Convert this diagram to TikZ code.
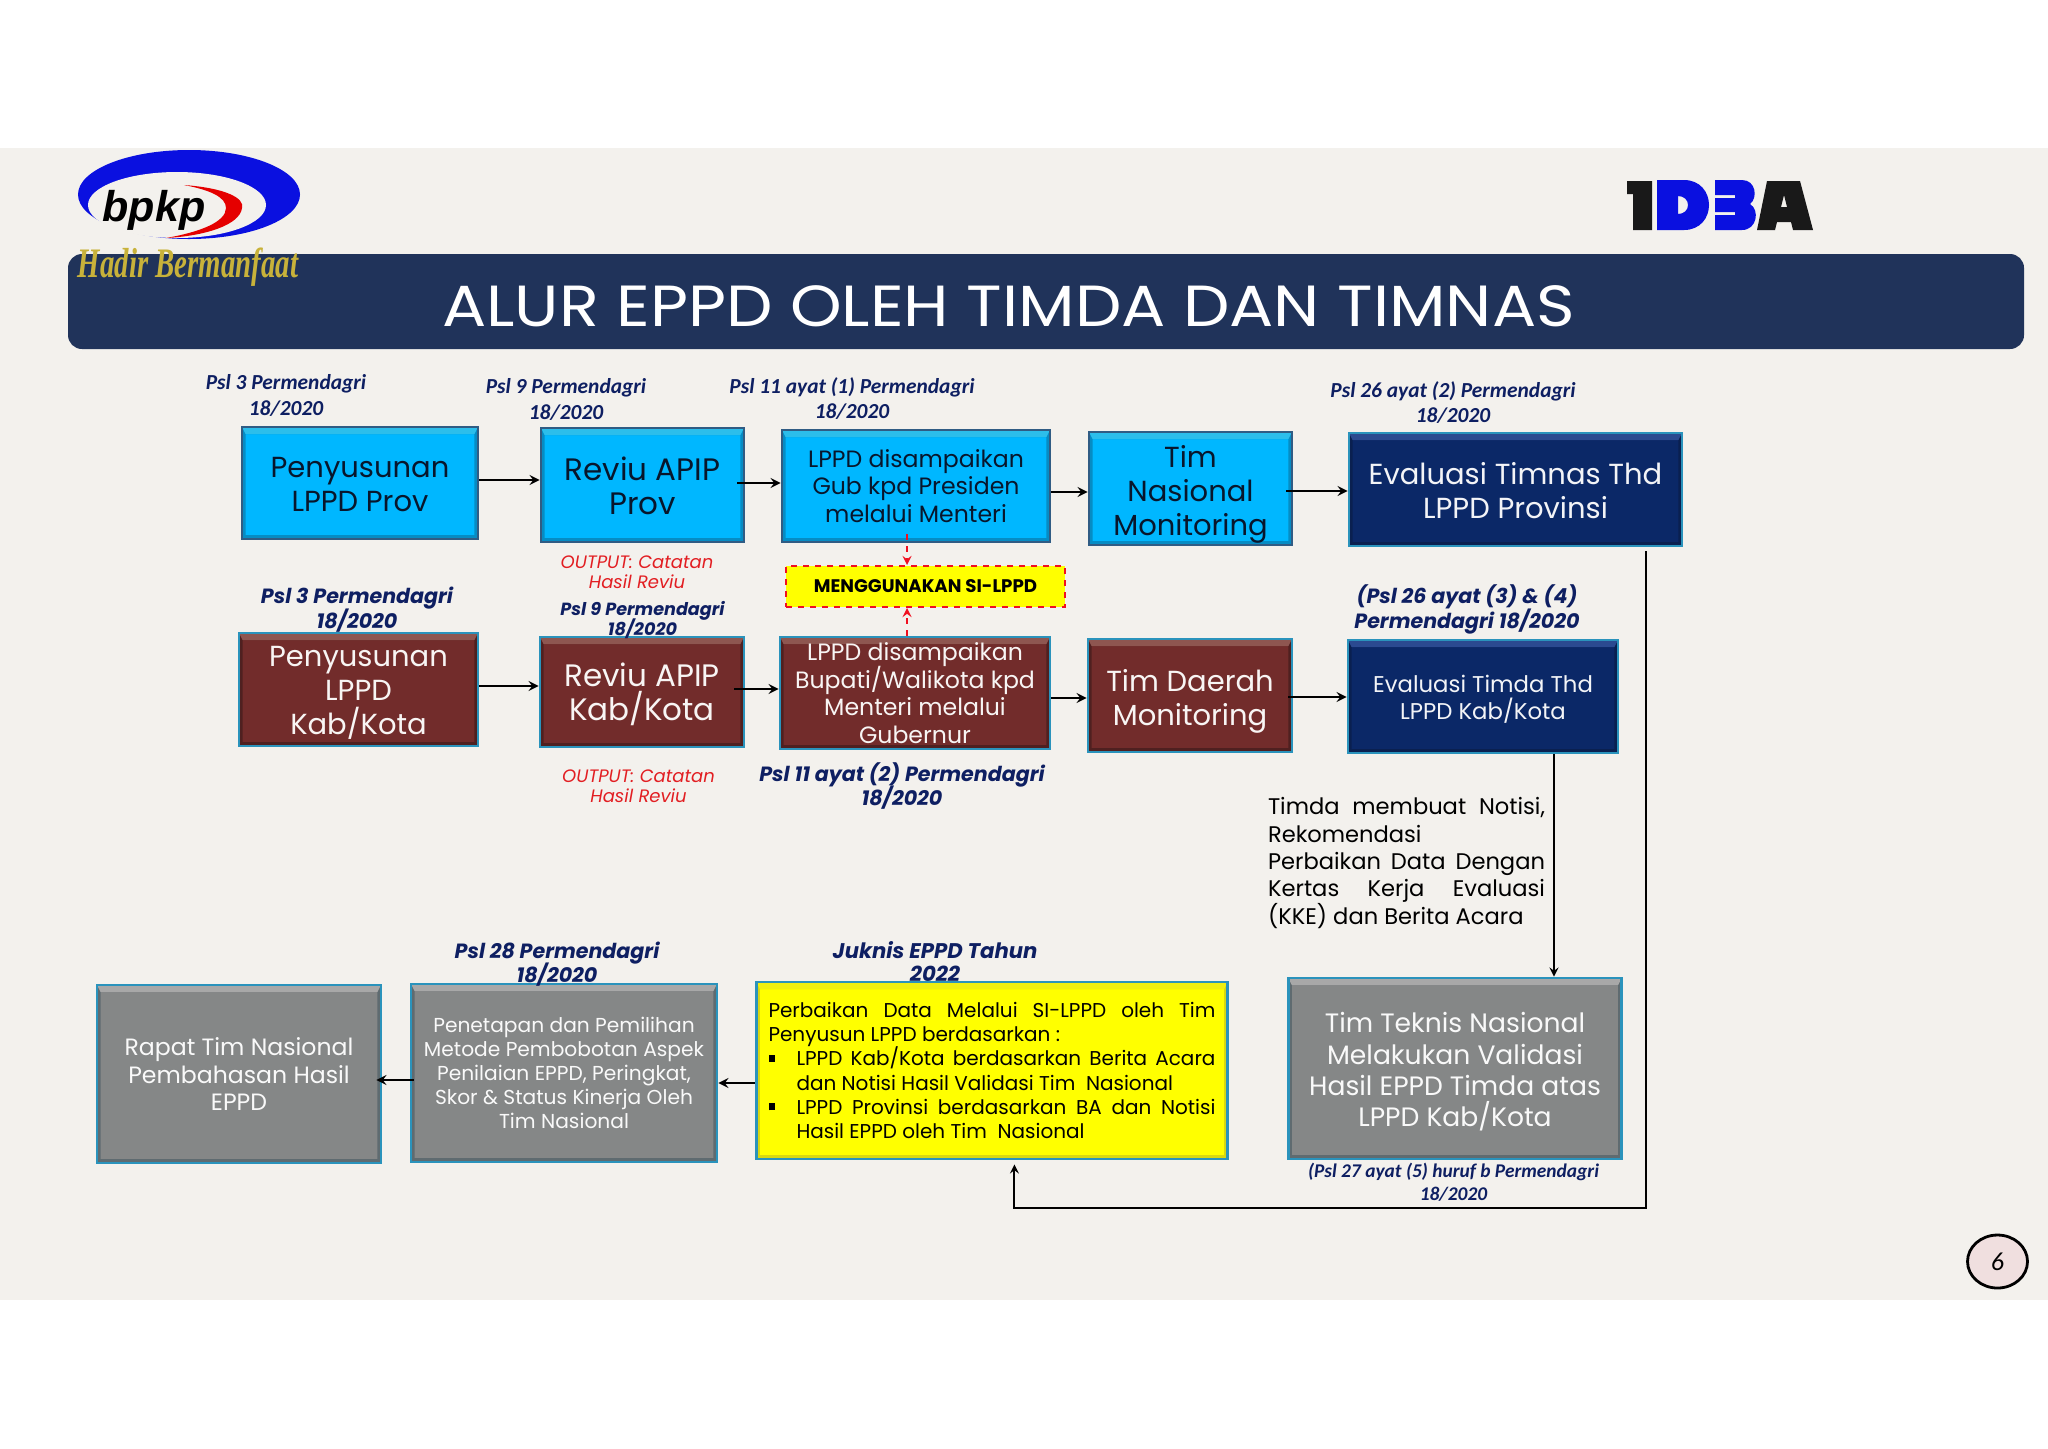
\documentclass[tikz,border=0pt]{standalone}
\usepackage{graphicx}
\usepackage{fontspec}
\setmainfont{Poppins}
\newfontfamily\carlitofont{Carlito}
\newfontfamily\logofont{Liberation Sans}
\newfontfamily\goldfont{Liberation Serif}
\usepackage{xcolor}
\usepackage{tikz}
\usetikzlibrary{shapes.geometric, arrows}
\AtBeginDocument{\lineskiplimit=-10pt\normallineskiplimit=-10pt}
\definecolor{slidebg}{HTML}{F3F1ED}
\definecolor{headbar}{HTML}{20335A}
\definecolor{pasalblue}{HTML}{0E1F62}
\definecolor{rimcyan}{HTML}{2A93BC}
\definecolor{skyfill}{HTML}{00B7FF}
\definecolor{skyrim}{HTML}{305C84}
\definecolor{skytop}{HTML}{2CBEEB}
\definecolor{skyside}{HTML}{068CC4}
\definecolor{skytext}{HTML}{08162C}
\definecolor{navyfill}{HTML}{0B2867}
\definecolor{navytop}{HTML}{2B4A90}
\definecolor{navyside}{HTML}{0A2050}
\definecolor{brownfill}{HTML}{722C2B}
\definecolor{browntop}{HTML}{8E5650}
\definecolor{brownside}{HTML}{4F2020}
\definecolor{grayfill}{HTML}{858787}
\definecolor{graytop}{HTML}{A8A8A8}
\definecolor{grayside}{HTML}{5F6B70}
\definecolor{outred}{HTML}{E21E22}
\definecolor{motto}{HTML}{C8B23A}
\definecolor{pagepink}{HTML}{F0DFDF}
\definecolor{lemon}{HTML}{FFFF00}
\definecolor{lemontop}{HTML}{EFEF10}
\definecolor{lemonside}{HTML}{D8D810}
\definecolor{dashred}{HTML}{F01020}
\definecolor{logoblue}{HTML}{0A10E0}
\tikzset{bevel/.style 2 args={path picture={
    \fill[#2, even odd rule] (path picture bounding box.south west) rectangle (path picture bounding box.north east)
        ([shift={(1.8pt,2pt)}]path picture bounding box.south west) rectangle ([shift={(-1.8pt,-3.5pt)}]path picture bounding box.north east);
    \fill[#1] (path picture bounding box.north west) -- (path picture bounding box.north east)
        -- ([shift={(-1.8pt,-3.5pt)}]path picture bounding box.north east) -- ([shift={(1.8pt,-3.5pt)}]path picture bounding box.north west) -- cycle;
}}}
\newcommand{\lifttop}[1]{\rule{0pt}{#1}}
\newcommand{\fullline}[1]{\noindent\hbox to \hsize{\spaceskip=0pt\xspaceskip=0pt #1}\par}
\newcommand{\sqbullet}{\hbox to 14pt{\rule[2pt]{3pt}{3.5pt}\hfil}}
\tikzstyle{flowblock} = [rectangle, line width=1.4pt, align=center, inner sep=0pt, text centered]
\tikzstyle{blueblock} = [flowblock, fill=skyfill, draw=skyrim, text=skytext, bevel={skytop}{skyside}]
\tikzstyle{navyblock} = [flowblock, fill=navyfill, draw=rimcyan, text=white!95!navyfill, bevel={navytop}{navyside}]
\tikzstyle{brownblock} = [flowblock, fill=brownfill, draw=rimcyan, text=white!95!brownfill, bevel={browntop}{brownside}]
\tikzstyle{grayblock} = [flowblock, fill=grayfill, draw=rimcyan, text=white!95!grayfill, bevel={graytop}{grayside}]
\tikzstyle{yellowblock} = [flowblock, fill=lemon, draw=rimcyan, text=black, bevel={lemontop}{lemonside}]
\tikzstyle{bigtext} = [font=\fontsize{14.5}{17}\selectfont]
\tikzstyle{reviutext} = [font=\fontsize{15.5}{17}\selectfont]
\tikzstyle{midtext} = [font=\fontsize{11.8}{13.8}\selectfont]
\tikzstyle{smalltext} = [font=\fontsize{10.1}{12}\selectfont]
\tikzstyle{pasal} = [node distance=40pt, align=center, text=pasalblue, inner sep=0pt, font=\carlitofont\bfseries\itshape\fontsize{10.7}{12.9}\selectfont]
\tikzstyle{pasalbold} = [pasal, font=\bfseries\itshape\fontsize{10.3}{12.2}\selectfont]
\tikzstyle{output} = [node distance=40pt, align=center, inner sep=0pt, text=outred, font=\itshape\fontsize{9}{10.2}\selectfont]
\tikzstyle{arrow} = [line width=1.2pt,->,>=stealth]
\tikzstyle{redarrow} = [line width=1pt,->,>=stealth, dashred, dashed]
\begin{document}
\begin{tikzpicture}[x=0.5pt, y=-0.5pt, node distance=100pt]
    \useasboundingbox (0,0) rectangle (2048,1448);
    \fill[slidebg] (0,148) rectangle (2048,1300);

    % logos
    \fill[logoblue] (189,194.5) ellipse [x radius=55.5pt, y radius=22.25pt];
    \fill[slidebg] (177,205) ellipse [x radius=44.5pt, y radius=16.5pt];
    \fill[red!90!black] (184,185) .. controls (225,188) and (245,198) .. (242,208) .. controls (240,225) and (205,236) .. (166,238) .. controls (200,232) and (226,222) .. (226,208) .. controls (226,197) and (210,190) .. (184,185) -- cycle;
    \node (bpkp) at (154,210) [inner sep=0pt, font=\logofont\bfseries\itshape\fontsize{21.5}{24}\selectfont] {bpkp};
    \fill[black!90] (1627,181) -- (1652,181) -- (1652,230) -- (1633,230) -- (1633,194) -- (1627,194) -- cycle;
    \fill[logoblue, even odd rule] (1657,180) -- (1684,180) .. controls (1700,180) and (1709,192) .. (1709,205) .. controls (1709,218) and (1700,230) .. (1684,230) -- (1657,230) -- cycle
        (1678,196) -- (1678,214) .. controls (1684,214) and (1688,210) .. (1688,205) .. controls (1688,200) and (1684,196) .. (1678,196) -- cycle;
    \fill[logoblue] (1715,180) -- (1742,180) .. controls (1756,180) and (1758,198) .. (1750,204) .. controls (1760,210) and (1757,230) .. (1742,230) -- (1715,230) -- (1715,215) -- (1735,215) -- (1735,212) -- (1715,212) -- (1715,198) -- (1735,198) -- (1735,195) -- (1715,195) -- cycle;
    \fill[black!90, even odd rule] (1767,181) -- (1800,181) -- (1813,230) -- (1793,230) -- (1791,222) -- (1777,222) -- (1775,230) -- (1757,230) -- cycle
        (1784,195) -- (1781,207) -- (1787,207) -- cycle;

    % header
    \node (headband) at (1046,301.5) [rectangle, rounded corners=7pt, fill=headbar, minimum width=978pt, minimum height=47.5pt, inner sep=0pt] {};
    \node (mottotext) at (188,267) [inner sep=0pt, text=motto, font=\goldfont\bfseries\itshape\fontsize{15}{18}\selectfont] {\scalebox{0.96}[1.4]{Hadir Bermanfaat}};
    \node (title) at (1008.5,306) [inner sep=0pt, text=white, font=\fontsize{29}{32}\selectfont] {\scalebox{1.132}[1]{ALUR EPPD OLEH TIMDA DAN TIMNAS}};

    % provinsi
    \node (prov) at (360,483) [blueblock, bigtext, minimum width=118pt, minimum height=56pt] {\lifttop{11.8pt}Penyusunan\\LPPD Prov};
    \node (reviuprov) [blueblock, reviutext, minimum width=101.5pt, minimum height=57pt, right of=prov, xshift=41.25pt, yshift=-1pt] {\lifttop{12.4pt}Reviu APIP\\Prov};
    \node (lppdprov) [blueblock, midtext, minimum width=134pt, minimum height=56pt, right of=reviuprov, xshift=36.75pt, yshift=-0.5pt] {LPPD disampaikan\\Gub kpd Presiden\\melalui Menteri};
    \node (timnas) [blueblock, bigtext, minimum width=101.5pt, minimum height=56.5pt, right of=lppdprov, xshift=37.25pt, yshift=-1.25pt] {\lifttop{16.4pt}Tim\\Nasional\\Monitoring};
    \node (evalprov) [navyblock, bigtext, minimum width=166.5pt, minimum height=56.5pt, right of=timnas, xshift=62.5pt, yshift=-0.5pt] {\lifttop{12.4pt}Evaluasi Timnas Thd\\LPPD Provinsi};

    % kab/kota
    \node (kab) [brownblock, bigtext, minimum width=119.5pt, minimum height=56.5pt, below of=prov, xshift=-0.75pt, yshift=-3.25pt] {\lifttop{13.1pt}Penyusunan\\LPPD\\Kab/Kota};
    \node (reviukab) [brownblock, reviutext, minimum width=102pt, minimum height=55pt, right of=kab, xshift=41.75pt, yshift=-1.25pt] {\lifttop{14.4pt}Reviu APIP\\Kab/Kota};
    \node (lppdkab) [brownblock, midtext, minimum width=135pt, minimum height=56pt, right of=reviukab, xshift=36.5pt, yshift=-0.5pt] {LPPD disampaikan\\Bupati/Walikota kpd\\Menteri melalui\\Gubernur};
    \node (timda) [brownblock, bigtext, minimum width=102pt, minimum height=56.5pt, right of=lppdkab, xshift=37.5pt, yshift=-1.25pt] {\lifttop{16.4pt}Tim Daerah\\Monitoring};
    \node (evalkab) [navyblock, midtext, font=\fontsize{11.4}{13.8}\selectfont, minimum width=135pt, minimum height=56.5pt, right of=timda, xshift=46.5pt, yshift=-0.5pt] {\lifttop{11.4pt}Evaluasi Timda Thd\\LPPD Kab/Kota};
    \node (silppd) [rectangle, fill=lemon, draw=dashred, dashed, line width=1pt, inner sep=0pt, minimum width=139.5pt, minimum height=20.5pt, above of=lppdkab, xshift=5.25pt, yshift=-46.75pt, font=\bfseries\fontsize{9.1}{10}\selectfont] {MENGGUNAKAN SI-LPPD};

    % nasional
    \node (rapat) at (239,1074) [grayblock, midtext, minimum width=142pt, minimum height=89pt] {Rapat Tim Nasional\\Pembahasan Hasil\\EPPD};
    \node (penetapan) [grayblock, smalltext, minimum width=153pt, minimum height=89pt, right of=rapat, xshift=62.5pt, yshift=0.5pt] {Penetapan dan Pemilihan\\Metode Pembobotan Aspek\\Penilaian EPPD, Peringkat,\\Skor \& Status Kinerja Oleh\\Tim Nasional};
    \node (perbaikan) [yellowblock, minimum width=235.75pt, minimum height=88.5pt, right of=penetapan, xshift=114pt, yshift=1.25pt, text width=223.5pt, align=left, font=\fontsize{10}{12.1}\selectfont] {\fullline{Perbaikan Data Melalui SI-LPPD oleh Tim}\fullline{Penyusun LPPD berdasarkan :\hfil}\fullline{\sqbullet LPPD Kab/Kota berdasarkan Berita Acara}\fullline{\hbox to 14pt{\hfil}dan Notisi Hasil Validasi Tim\ \ Nasional\hfil}\fullline{\sqbullet LPPD Provinsi berdasarkan BA dan Notisi}\fullline{\hbox to 14pt{\hfil}Hasil EPPD oleh Tim\ \ Nasional\hfil}};
    \node (validasi) [grayblock, bigtext, font=\fontsize{13.3}{15.6}\selectfont, minimum width=166.75pt, minimum height=90.5pt, right of=perbaikan, xshift=131.5pt, yshift=1pt] {\lifttop{13.4pt}Tim Teknis Nasional\\Melakukan Validasi\\Hasil EPPD Timda atas\\LPPD Kab/Kota};

    % dasar hukum
    \node (lblprov) [pasal, above of=prov, xshift=-37pt, yshift=3.75pt] {Psl 3 Permendagri\\18/2020};
    \node (lblreviuprov) [pasal, above of=reviuprov, xshift=-38.25pt, yshift=2.75pt] {Psl 9 Permendagri\\18/2020};
    \node (lbllppdprov) [pasal, above of=lppdprov, xshift=-32pt, yshift=3.75pt] {Psl 11 ayat (1) Permendagri\\18/2020};
    \node (lblevalprov) [pasal, above of=evalprov, xshift=-31.25pt, yshift=3.5pt] {Psl 26 ayat (2) Permendagri\\18/2020};
    \node (lblkab) [pasalbold, above of=kab, xshift=-0.75pt, yshift=0pt] {Psl 3 Permendagri\\18/2020};
    \node (lblreviukab) [pasalbold, font=\bfseries\itshape\fontsize{8.8}{10}\selectfont, above of=reviukab, xshift=0.25pt, yshift=-4pt] {Psl 9 Permendagri\\18/2020};
    \node (lblevalkab) [pasalbold, above of=evalkab, xshift=-8pt, yshift=3.5pt] {(Psl 26 ayat (3) \& (4)\\Permendagri 18/2020};
    \node (lbllppdkab) [pasalbold, below of=lppdkab, xshift=-6.5pt, yshift=-6.5pt] {Psl 11 ayat (2) Permendagri\\18/2020};
    \node (lblpenetapan) [pasalbold, above of=penetapan, xshift=-3.5pt, yshift=14.5pt] {Psl 28 Permendagri\\18/2020};
    \node (lblperbaikan) [pasalbold, font=\bfseries\itshape\fontsize{10.6}{11.8}\selectfont, above of=perbaikan, xshift=-28.5pt, yshift=14.5pt] {Juknis EPPD Tahun\\2022};
    \node (lblvalidasi) [pasal, font=\carlitofont\bfseries\itshape\fontsize{9.7}{11.6}\selectfont, below of=validasi, xshift=-0.75pt, yshift=-17pt] {(Psl 27 ayat (5) huruf b Permendagri\\18/2020};
    \node (outprov) [output, below of=reviuprov, xshift=-2.75pt, yshift=-3.5pt] {OUTPUT: Catatan\\Hasil Reviu};
    \node (outkab) [output, below of=reviukab, xshift=-1.75pt, yshift=-7pt] {OUTPUT: Catatan\\Hasil Reviu};
    \node (notisi) [node distance=40pt, inner sep=0pt, text width=138.5pt, font=\fontsize{11.3}{13.7}\selectfont, below of=evalkab, xshift=-38.25pt, yshift=-43.25pt] {\fullline{Timda membuat Notisi,}\fullline{Rekomendasi\hfil}\fullline{Perbaikan Data Dengan}\fullline{Kertas Kerja Evaluasi}\fullline{(KKE) dan Berita Acara\hfil}};
    \node (halaman) at (1997.5,1261.5) [ellipse, fill=pagepink, draw=black, line width=1.4pt, minimum width=30pt, minimum height=26.5pt, inner sep=0pt, font=\carlitofont\itshape\fontsize{13}{15}\selectfont] {6};

    \draw [arrow] ([yshift=1.5pt]prov.east) -- ([yshift=1.5pt]prov.east -| reviuprov.west);
    \draw [arrow, shorten <=-4pt] ([yshift=1pt]reviuprov.east) -- ([yshift=1pt]reviuprov.east -| lppdprov.west);
    \draw [arrow] ([yshift=-3pt]lppdprov.east) -- ([yshift=-3pt]lppdprov.east -| timnas.west);
    \draw [arrow, shorten <=-3.5pt] ([yshift=-1.25pt]timnas.east) -- ([yshift=-1.25pt]timnas.east -| evalprov.west);

    \draw [arrow] ([yshift=1.75pt]kab.east) -- ([yshift=1.75pt]kab.east -| reviukab.west);
    \draw [arrow, shorten <=-5.5pt] ([yshift=1.5pt]reviukab.east) -- ([yshift=1.5pt]reviukab.east -| lppdkab.west);
    \draw [arrow] ([yshift=-2.5pt]lppdkab.east) -- ([yshift=-2.5pt]lppdkab.east -| timda.west);
    \draw [arrow, shorten <=-2.5pt] ([yshift=-0.75pt]timda.east) -- ([yshift=-0.75pt]timda.east -| evalkab.west);

    \draw [redarrow, shorten <=-4.5pt] ([xshift=-4.5pt]lppdprov.south) -- ([xshift=-4.5pt]lppdprov.south |- silppd.north);
    \draw [redarrow] ([xshift=-4pt]lppdkab.north) -- ([xshift=-4pt]lppdkab.north |- silppd.south);

    \draw [arrow, line width=1pt] ([xshift=35.5pt]evalkab.south) -- ([xshift=35.5pt]evalkab.south |- validasi.north);
    \coordinate (turnback) at (1330,1208);
    \draw [arrow, line width=1pt] ([xshift=65.25pt, yshift=-2pt]evalprov.south) |- (turnback) -| ([xshift=11.2pt, yshift=-2pt]perbaikan.south);

    \draw [arrow] ([yshift=-6.25pt]perbaikan.west) -- ([yshift=-6.25pt]perbaikan.west -| penetapan.east);
    \draw [arrow, shorten <=-2pt, shorten >=-3pt] ([yshift=-3.5pt]penetapan.west) -- ([yshift=-3.5pt]penetapan.west -| rapat.east);
\end{tikzpicture}
\end{document}
